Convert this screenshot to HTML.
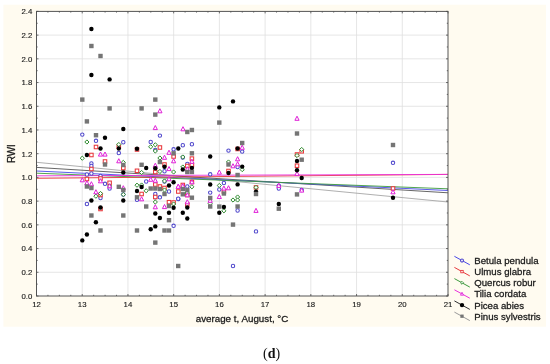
<!DOCTYPE html><html><head><meta charset="utf-8"><title>Figure d</title><style>html,body{margin:0;padding:0;background:#fff}body{width:550px;height:364px;position:relative;overflow:hidden}</style></head><body><svg width="550" height="364" viewBox="0 0 550 364" style="position:absolute;left:0;top:0">
<rect x="0" y="0" width="550" height="364" fill="#fff"/>
<rect x="3.4" y="4.7" width="542.6" height="322.0" fill="#fffbf0"/>
<rect x="36.5" y="11.4" width="411.5" height="284.6" fill="#fff"/>
<path d="M82.22 11.4V296.0M127.94 11.4V296.0M173.67 11.4V296.0M219.39 11.4V296.0M265.11 11.4V296.0M310.83 11.4V296.0M356.56 11.4V296.0M402.28 11.4V296.0M36.5 272.28H448.0M36.5 248.57H448.0M36.5 224.85H448.0M36.5 201.13H448.0M36.5 177.42H448.0M36.5 153.70H448.0M36.5 129.98H448.0M36.5 106.27H448.0M36.5 82.55H448.0M36.5 58.83H448.0M36.5 35.12H448.0" stroke="#e0e0e0" stroke-width="0.8" fill="none"/>
<line x1="36.5" y1="162.3" x2="448.0" y2="202" stroke="#a6a6a6" stroke-width="0.9"/>
<line x1="36.5" y1="167.4" x2="448.0" y2="192.8" stroke="#555" stroke-width="0.9"/>
<line x1="36.5" y1="171" x2="448.0" y2="190.5" stroke="#4848e8" stroke-width="0.9"/>
<line x1="36.5" y1="173.2" x2="448.0" y2="188.8" stroke="#3c9a3c" stroke-width="0.9"/>
<line x1="36.5" y1="178.3" x2="448.0" y2="174.4" stroke="#e8383c" stroke-width="0.9"/>
<line x1="36.5" y1="175.8" x2="448.0" y2="174.4" stroke="#ea30dc" stroke-width="0.9"/>
<g>
<circle cx="82.3" cy="134.6" r="1.7" fill="#fff" stroke="#5048cc" stroke-width="1.05"/>
<circle cx="96.0" cy="140.8" r="1.7" fill="#fff" stroke="#5048cc" stroke-width="1.05"/>
<circle cx="159.9" cy="135.6" r="1.7" fill="#fff" stroke="#5048cc" stroke-width="1.05"/>
<circle cx="123.3" cy="142.2" r="1.7" fill="#fff" stroke="#5048cc" stroke-width="1.05"/>
<circle cx="150.7" cy="142.0" r="1.7" fill="#fff" stroke="#5048cc" stroke-width="1.05"/>
<circle cx="155.3" cy="150.0" r="1.7" fill="#fff" stroke="#5048cc" stroke-width="1.05"/>
<circle cx="173.6" cy="149.3" r="1.7" fill="#fff" stroke="#5048cc" stroke-width="1.05"/>
<circle cx="118.8" cy="153.0" r="1.7" fill="#fff" stroke="#5048cc" stroke-width="1.05"/>
<circle cx="91.4" cy="163.5" r="1.7" fill="#fff" stroke="#5048cc" stroke-width="1.05"/>
<circle cx="91.4" cy="166.0" r="1.7" fill="#fff" stroke="#5048cc" stroke-width="1.05"/>
<circle cx="86.9" cy="174.5" r="1.7" fill="#fff" stroke="#5048cc" stroke-width="1.05"/>
<circle cx="91.4" cy="173.5" r="1.7" fill="#fff" stroke="#5048cc" stroke-width="1.05"/>
<circle cx="100.5" cy="176.0" r="1.7" fill="#fff" stroke="#5048cc" stroke-width="1.05"/>
<circle cx="105.0" cy="183.8" r="1.7" fill="#fff" stroke="#5048cc" stroke-width="1.05"/>
<circle cx="109.6" cy="188.5" r="1.7" fill="#fff" stroke="#5048cc" stroke-width="1.05"/>
<circle cx="100.5" cy="198.0" r="1.7" fill="#fff" stroke="#5048cc" stroke-width="1.05"/>
<circle cx="86.9" cy="204.0" r="1.7" fill="#fff" stroke="#5048cc" stroke-width="1.05"/>
<circle cx="146.2" cy="181.5" r="1.7" fill="#fff" stroke="#5048cc" stroke-width="1.05"/>
<circle cx="164.5" cy="181.5" r="1.7" fill="#fff" stroke="#5048cc" stroke-width="1.05"/>
<circle cx="164.5" cy="171.2" r="1.7" fill="#fff" stroke="#5048cc" stroke-width="1.05"/>
<circle cx="169.0" cy="191.5" r="1.7" fill="#fff" stroke="#5048cc" stroke-width="1.05"/>
<circle cx="137.0" cy="199.7" r="1.7" fill="#fff" stroke="#5048cc" stroke-width="1.05"/>
<circle cx="155.3" cy="194.0" r="1.7" fill="#fff" stroke="#5048cc" stroke-width="1.05"/>
<circle cx="155.3" cy="197.3" r="1.7" fill="#fff" stroke="#5048cc" stroke-width="1.05"/>
<circle cx="159.9" cy="197.3" r="1.7" fill="#fff" stroke="#5048cc" stroke-width="1.05"/>
<circle cx="178.3" cy="199.0" r="1.7" fill="#fff" stroke="#5048cc" stroke-width="1.05"/>
<circle cx="173.6" cy="225.8" r="1.7" fill="#fff" stroke="#5048cc" stroke-width="1.05"/>
<circle cx="182.8" cy="145.2" r="1.7" fill="#fff" stroke="#5048cc" stroke-width="1.05"/>
<circle cx="191.9" cy="144.2" r="1.7" fill="#fff" stroke="#5048cc" stroke-width="1.05"/>
<circle cx="228.5" cy="150.6" r="1.7" fill="#fff" stroke="#5048cc" stroke-width="1.05"/>
<circle cx="242.2" cy="151.6" r="1.7" fill="#fff" stroke="#5048cc" stroke-width="1.05"/>
<circle cx="182.8" cy="157.5" r="1.7" fill="#fff" stroke="#5048cc" stroke-width="1.05"/>
<circle cx="187.3" cy="164.0" r="1.7" fill="#fff" stroke="#5048cc" stroke-width="1.05"/>
<circle cx="237.6" cy="167.0" r="1.7" fill="#fff" stroke="#5048cc" stroke-width="1.05"/>
<circle cx="210.2" cy="174.3" r="1.7" fill="#fff" stroke="#5048cc" stroke-width="1.05"/>
<circle cx="223.9" cy="183.0" r="1.7" fill="#fff" stroke="#5048cc" stroke-width="1.05"/>
<circle cx="187.3" cy="186.5" r="1.7" fill="#fff" stroke="#5048cc" stroke-width="1.05"/>
<circle cx="219.3" cy="189.5" r="1.7" fill="#fff" stroke="#5048cc" stroke-width="1.05"/>
<circle cx="210.2" cy="192.6" r="1.7" fill="#fff" stroke="#5048cc" stroke-width="1.05"/>
<circle cx="178.2" cy="198.7" r="1.7" fill="#fff" stroke="#5048cc" stroke-width="1.05"/>
<circle cx="237.6" cy="210.5" r="1.7" fill="#fff" stroke="#5048cc" stroke-width="1.05"/>
<circle cx="256.0" cy="231.4" r="1.7" fill="#fff" stroke="#5048cc" stroke-width="1.05"/>
<circle cx="233.0" cy="266.0" r="1.7" fill="#fff" stroke="#5048cc" stroke-width="1.05"/>
<circle cx="278.8" cy="185.6" r="1.7" fill="#fff" stroke="#5048cc" stroke-width="1.05"/>
<circle cx="278.8" cy="188.6" r="1.7" fill="#fff" stroke="#5048cc" stroke-width="1.05"/>
<circle cx="301.7" cy="190.0" r="1.7" fill="#fff" stroke="#5048cc" stroke-width="1.05"/>
<circle cx="393.0" cy="162.8" r="1.7" fill="#fff" stroke="#5048cc" stroke-width="1.05"/>
<circle cx="123.3" cy="194.5" r="1.7" fill="#fff" stroke="#5048cc" stroke-width="1.05"/>
<rect x="94.25" y="145.25" width="3.5" height="3.5" fill="#fff" stroke="#e8383c" stroke-width="1.05"/>
<rect x="89.65" y="153.25" width="3.5" height="3.5" fill="#fff" stroke="#e8383c" stroke-width="1.05"/>
<rect x="103.25" y="159.75" width="3.5" height="3.5" fill="#fff" stroke="#e8383c" stroke-width="1.05"/>
<rect x="89.65" y="167.25" width="3.5" height="3.5" fill="#fff" stroke="#e8383c" stroke-width="1.05"/>
<rect x="85.15" y="177.25" width="3.5" height="3.5" fill="#fff" stroke="#e8383c" stroke-width="1.05"/>
<rect x="98.75" y="176.75" width="3.5" height="3.5" fill="#fff" stroke="#e8383c" stroke-width="1.05"/>
<rect x="107.85" y="181.05" width="3.5" height="3.5" fill="#fff" stroke="#e8383c" stroke-width="1.05"/>
<rect x="98.75" y="193.25" width="3.5" height="3.5" fill="#fff" stroke="#e8383c" stroke-width="1.05"/>
<rect x="98.75" y="207.25" width="3.5" height="3.5" fill="#fff" stroke="#e8383c" stroke-width="1.05"/>
<rect x="117.05" y="144.75" width="3.5" height="3.5" fill="#fff" stroke="#e8383c" stroke-width="1.05"/>
<rect x="121.55" y="166.25" width="3.5" height="3.5" fill="#fff" stroke="#e8383c" stroke-width="1.05"/>
<rect x="135.25" y="147.75" width="3.5" height="3.5" fill="#fff" stroke="#e8383c" stroke-width="1.05"/>
<rect x="158.15" y="145.75" width="3.5" height="3.5" fill="#fff" stroke="#e8383c" stroke-width="1.05"/>
<rect x="171.85" y="154.75" width="3.5" height="3.5" fill="#fff" stroke="#e8383c" stroke-width="1.05"/>
<rect x="162.75" y="162.75" width="3.5" height="3.5" fill="#fff" stroke="#e8383c" stroke-width="1.05"/>
<rect x="135.25" y="169.05" width="3.5" height="3.5" fill="#fff" stroke="#e8383c" stroke-width="1.05"/>
<rect x="153.55" y="170.25" width="3.5" height="3.5" fill="#fff" stroke="#e8383c" stroke-width="1.05"/>
<rect x="153.55" y="182.75" width="3.5" height="3.5" fill="#fff" stroke="#e8383c" stroke-width="1.05"/>
<rect x="158.15" y="184.75" width="3.5" height="3.5" fill="#fff" stroke="#e8383c" stroke-width="1.05"/>
<rect x="162.75" y="186.25" width="3.5" height="3.5" fill="#fff" stroke="#e8383c" stroke-width="1.05"/>
<rect x="139.85" y="192.25" width="3.5" height="3.5" fill="#fff" stroke="#e8383c" stroke-width="1.05"/>
<rect x="153.55" y="195.25" width="3.5" height="3.5" fill="#fff" stroke="#e8383c" stroke-width="1.05"/>
<rect x="167.25" y="200.45" width="3.5" height="3.5" fill="#fff" stroke="#e8383c" stroke-width="1.05"/>
<rect x="171.85" y="200.75" width="3.5" height="3.5" fill="#fff" stroke="#e8383c" stroke-width="1.05"/>
<rect x="176.55" y="189.75" width="3.5" height="3.5" fill="#fff" stroke="#e8383c" stroke-width="1.05"/>
<rect x="235.85" y="147.25" width="3.5" height="3.5" fill="#fff" stroke="#e8383c" stroke-width="1.05"/>
<rect x="190.15" y="156.85" width="3.5" height="3.5" fill="#fff" stroke="#e8383c" stroke-width="1.05"/>
<rect x="190.15" y="163.25" width="3.5" height="3.5" fill="#fff" stroke="#e8383c" stroke-width="1.05"/>
<rect x="185.55" y="164.25" width="3.5" height="3.5" fill="#fff" stroke="#e8383c" stroke-width="1.05"/>
<rect x="226.75" y="169.25" width="3.5" height="3.5" fill="#fff" stroke="#e8383c" stroke-width="1.05"/>
<rect x="190.15" y="180.25" width="3.5" height="3.5" fill="#fff" stroke="#e8383c" stroke-width="1.05"/>
<rect x="181.05" y="183.25" width="3.5" height="3.5" fill="#fff" stroke="#e8383c" stroke-width="1.05"/>
<rect x="222.15" y="189.75" width="3.5" height="3.5" fill="#fff" stroke="#e8383c" stroke-width="1.05"/>
<rect x="185.55" y="193.25" width="3.5" height="3.5" fill="#fff" stroke="#e8383c" stroke-width="1.05"/>
<rect x="185.55" y="202.75" width="3.5" height="3.5" fill="#fff" stroke="#e8383c" stroke-width="1.05"/>
<rect x="254.25" y="185.65" width="3.5" height="3.5" fill="#fff" stroke="#e8383c" stroke-width="1.05"/>
<rect x="295.25" y="152.75" width="3.5" height="3.5" fill="#fff" stroke="#e8383c" stroke-width="1.05"/>
<rect x="299.95" y="149.55" width="3.5" height="3.5" fill="#fff" stroke="#e8383c" stroke-width="1.05"/>
<rect x="295.25" y="163.95" width="3.5" height="3.5" fill="#fff" stroke="#e8383c" stroke-width="1.05"/>
<rect x="391.25" y="186.75" width="3.5" height="3.5" fill="#fff" stroke="#e8383c" stroke-width="1.05"/>
<path d="M123.3 160.3L125.4 162.4L123.3 164.5L121.2 162.4Z" fill="#fff" stroke="#2e8b2e" stroke-width="1.0"/>
<path d="M86.9 139.9L89.0 142.0L86.9 144.1L84.8 142.0Z" fill="#fff" stroke="#2e8b2e" stroke-width="1.0"/>
<path d="M82.3 156.1L84.4 158.2L82.3 160.3L80.2 158.2Z" fill="#fff" stroke="#2e8b2e" stroke-width="1.0"/>
<path d="M118.8 142.4L120.9 144.5L118.8 146.6L116.7 144.5Z" fill="#fff" stroke="#2e8b2e" stroke-width="1.0"/>
<path d="M109.6 183.9L111.7 186.0L109.6 188.1L107.5 186.0Z" fill="#fff" stroke="#2e8b2e" stroke-width="1.0"/>
<path d="M95.9 194.1L98.0 196.2L95.9 198.3L93.8 196.2Z" fill="#fff" stroke="#2e8b2e" stroke-width="1.0"/>
<path d="M100.5 191.4L102.6 193.5L100.5 195.6L98.4 193.5Z" fill="#fff" stroke="#2e8b2e" stroke-width="1.0"/>
<path d="M123.3 192.4L125.4 194.5L123.3 196.6L121.2 194.5Z" fill="#fff" stroke="#2e8b2e" stroke-width="1.0"/>
<path d="M150.7 144.7L152.8 146.8L150.7 148.9L148.6 146.8Z" fill="#fff" stroke="#2e8b2e" stroke-width="1.0"/>
<path d="M155.3 142.7L157.4 144.8L155.3 146.9L153.2 144.8Z" fill="#fff" stroke="#2e8b2e" stroke-width="1.0"/>
<path d="M155.3 148.9L157.4 151.0L155.3 153.1L153.2 151.0Z" fill="#fff" stroke="#2e8b2e" stroke-width="1.0"/>
<path d="M159.9 155.9L162.0 158.0L159.9 160.1L157.8 158.0Z" fill="#fff" stroke="#2e8b2e" stroke-width="1.0"/>
<path d="M159.9 169.4L162.0 171.5L159.9 173.6L157.8 171.5Z" fill="#fff" stroke="#2e8b2e" stroke-width="1.0"/>
<path d="M173.6 169.9L175.7 172.0L173.6 174.1L171.5 172.0Z" fill="#fff" stroke="#2e8b2e" stroke-width="1.0"/>
<path d="M141.6 170.4L143.7 172.5L141.6 174.6L139.5 172.5Z" fill="#fff" stroke="#2e8b2e" stroke-width="1.0"/>
<path d="M164.5 178.9L166.6 181.0L164.5 183.1L162.4 181.0Z" fill="#fff" stroke="#2e8b2e" stroke-width="1.0"/>
<path d="M137.0 183.1L139.1 185.2L137.0 187.3L134.9 185.2Z" fill="#fff" stroke="#2e8b2e" stroke-width="1.0"/>
<path d="M141.6 182.9L143.7 185.0L141.6 187.1L139.5 185.0Z" fill="#fff" stroke="#2e8b2e" stroke-width="1.0"/>
<path d="M146.2 188.7L148.3 190.8L146.2 192.9L144.1 190.8Z" fill="#fff" stroke="#2e8b2e" stroke-width="1.0"/>
<path d="M164.5 187.9L166.6 190.0L164.5 192.1L162.4 190.0Z" fill="#fff" stroke="#2e8b2e" stroke-width="1.0"/>
<path d="M155.3 199.9L157.4 202.0L155.3 204.1L153.2 202.0Z" fill="#fff" stroke="#2e8b2e" stroke-width="1.0"/>
<path d="M182.8 154.9L184.9 157.0L182.8 159.1L180.7 157.0Z" fill="#fff" stroke="#2e8b2e" stroke-width="1.0"/>
<path d="M182.8 164.9L184.9 167.0L182.8 169.1L180.7 167.0Z" fill="#fff" stroke="#2e8b2e" stroke-width="1.0"/>
<path d="M228.5 159.9L230.6 162.0L228.5 164.1L226.4 162.0Z" fill="#fff" stroke="#2e8b2e" stroke-width="1.0"/>
<path d="M242.2 167.5L244.3 169.6L242.2 171.7L240.1 169.6Z" fill="#fff" stroke="#2e8b2e" stroke-width="1.0"/>
<path d="M219.3 183.4L221.4 185.5L219.3 187.6L217.2 185.5Z" fill="#fff" stroke="#2e8b2e" stroke-width="1.0"/>
<path d="M191.9 184.7L194.0 186.8L191.9 188.9L189.8 186.8Z" fill="#fff" stroke="#2e8b2e" stroke-width="1.0"/>
<path d="M187.3 190.9L189.4 193.0L187.3 195.1L185.2 193.0Z" fill="#fff" stroke="#2e8b2e" stroke-width="1.0"/>
<path d="M210.2 201.4L212.3 203.5L210.2 205.6L208.1 203.5Z" fill="#fff" stroke="#2e8b2e" stroke-width="1.0"/>
<path d="M223.9 208.7L226.0 210.8L223.9 212.9L221.8 210.8Z" fill="#fff" stroke="#2e8b2e" stroke-width="1.0"/>
<path d="M237.6 194.9L239.7 197.0L237.6 199.1L235.5 197.0Z" fill="#fff" stroke="#2e8b2e" stroke-width="1.0"/>
<path d="M233.0 197.9L235.1 200.0L233.0 202.1L230.9 200.0Z" fill="#fff" stroke="#2e8b2e" stroke-width="1.0"/>
<path d="M237.6 197.9L239.7 200.0L237.6 202.1L235.5 200.0Z" fill="#fff" stroke="#2e8b2e" stroke-width="1.0"/>
<path d="M256.0 185.3L258.1 187.4L256.0 189.5L253.9 187.4Z" fill="#fff" stroke="#2e8b2e" stroke-width="1.0"/>
<path d="M297.0 153.4L299.1 155.5L297.0 157.6L294.9 155.5Z" fill="#fff" stroke="#2e8b2e" stroke-width="1.0"/>
<path d="M301.7 147.4L303.8 149.5L301.7 151.6L299.6 149.5Z" fill="#fff" stroke="#2e8b2e" stroke-width="1.0"/>
<path d="M173.6 201.9L175.7 204.0L173.6 206.1L171.5 204.0Z" fill="#fff" stroke="#2e8b2e" stroke-width="1.0"/>
<path d="M159.9 108.7L162.0 112.8L157.8 112.8Z" fill="#fff" stroke="#e020d8" stroke-width="1.0"/>
<path d="M155.3 125.5L157.4 129.6L153.2 129.6Z" fill="#fff" stroke="#e020d8" stroke-width="1.0"/>
<path d="M100.5 152.0L102.6 156.1L98.4 156.1Z" fill="#fff" stroke="#e020d8" stroke-width="1.0"/>
<path d="M105.0 152.0L107.1 156.1L102.9 156.1Z" fill="#fff" stroke="#e020d8" stroke-width="1.0"/>
<path d="M169.0 150.2L171.1 154.3L166.9 154.3Z" fill="#fff" stroke="#e020d8" stroke-width="1.0"/>
<path d="M164.5 155.2L166.6 159.3L162.4 159.3Z" fill="#fff" stroke="#e020d8" stroke-width="1.0"/>
<path d="M173.6 158.7L175.7 162.8L171.5 162.8Z" fill="#fff" stroke="#e020d8" stroke-width="1.0"/>
<path d="M118.8 158.7L120.9 162.8L116.7 162.8Z" fill="#fff" stroke="#e020d8" stroke-width="1.0"/>
<path d="M82.3 177.7L84.4 181.8L80.2 181.8Z" fill="#fff" stroke="#e020d8" stroke-width="1.0"/>
<path d="M86.9 180.7L89.0 184.8L84.8 184.8Z" fill="#fff" stroke="#e020d8" stroke-width="1.0"/>
<path d="M91.4 181.7L93.5 185.8L89.3 185.8Z" fill="#fff" stroke="#e020d8" stroke-width="1.0"/>
<path d="M100.5 178.7L102.6 182.8L98.4 182.8Z" fill="#fff" stroke="#e020d8" stroke-width="1.0"/>
<path d="M109.6 183.7L111.7 187.8L107.5 187.8Z" fill="#fff" stroke="#e020d8" stroke-width="1.0"/>
<path d="M95.9 189.7L98.0 193.8L93.8 193.8Z" fill="#fff" stroke="#e020d8" stroke-width="1.0"/>
<path d="M123.3 185.7L125.4 189.8L121.2 189.8Z" fill="#fff" stroke="#e020d8" stroke-width="1.0"/>
<path d="M155.3 163.2L157.4 167.3L153.2 167.3Z" fill="#fff" stroke="#e020d8" stroke-width="1.0"/>
<path d="M169.0 166.5L171.1 170.6L166.9 170.6Z" fill="#fff" stroke="#e020d8" stroke-width="1.0"/>
<path d="M150.7 177.2L152.8 181.3L148.6 181.3Z" fill="#fff" stroke="#e020d8" stroke-width="1.0"/>
<path d="M155.3 178.2L157.4 182.3L153.2 182.3Z" fill="#fff" stroke="#e020d8" stroke-width="1.0"/>
<path d="M169.0 176.7L171.1 180.8L166.9 180.8Z" fill="#fff" stroke="#e020d8" stroke-width="1.0"/>
<path d="M178.3 184.2L180.4 188.3L176.2 188.3Z" fill="#fff" stroke="#e020d8" stroke-width="1.0"/>
<path d="M141.6 196.7L143.7 200.8L139.5 200.8Z" fill="#fff" stroke="#e020d8" stroke-width="1.0"/>
<path d="M155.3 204.7L157.4 208.8L153.2 208.8Z" fill="#fff" stroke="#e020d8" stroke-width="1.0"/>
<path d="M164.5 204.5L166.6 208.6L162.4 208.6Z" fill="#fff" stroke="#e020d8" stroke-width="1.0"/>
<path d="M183.0 126.7L185.1 130.8L180.9 130.8Z" fill="#fff" stroke="#e020d8" stroke-width="1.0"/>
<path d="M242.2 145.2L244.3 149.3L240.1 149.3Z" fill="#fff" stroke="#e020d8" stroke-width="1.0"/>
<path d="M237.6 156.7L239.7 160.8L235.5 160.8Z" fill="#fff" stroke="#e020d8" stroke-width="1.0"/>
<path d="M237.6 161.7L239.7 165.8L235.5 165.8Z" fill="#fff" stroke="#e020d8" stroke-width="1.0"/>
<path d="M233.0 163.7L235.1 167.8L230.9 167.8Z" fill="#fff" stroke="#e020d8" stroke-width="1.0"/>
<path d="M191.9 159.2L194.0 163.3L189.8 163.3Z" fill="#fff" stroke="#e020d8" stroke-width="1.0"/>
<path d="M187.3 166.7L189.4 170.8L185.2 170.8Z" fill="#fff" stroke="#e020d8" stroke-width="1.0"/>
<path d="M219.3 170.0L221.4 174.1L217.2 174.1Z" fill="#fff" stroke="#e020d8" stroke-width="1.0"/>
<path d="M191.9 179.7L194.0 183.8L189.8 183.8Z" fill="#fff" stroke="#e020d8" stroke-width="1.0"/>
<path d="M178.2 184.2L180.3 188.3L176.1 188.3Z" fill="#fff" stroke="#e020d8" stroke-width="1.0"/>
<path d="M182.8 183.7L184.9 187.8L180.7 187.8Z" fill="#fff" stroke="#e020d8" stroke-width="1.0"/>
<path d="M223.9 186.0L226.0 190.1L221.8 190.1Z" fill="#fff" stroke="#e020d8" stroke-width="1.0"/>
<path d="M228.5 185.7L230.6 189.8L226.4 189.8Z" fill="#fff" stroke="#e020d8" stroke-width="1.0"/>
<path d="M219.3 194.4L221.4 198.5L217.2 198.5Z" fill="#fff" stroke="#e020d8" stroke-width="1.0"/>
<path d="M187.3 192.7L189.4 196.8L185.2 196.8Z" fill="#fff" stroke="#e020d8" stroke-width="1.0"/>
<path d="M210.2 198.2L212.3 202.3L208.1 202.3Z" fill="#fff" stroke="#e020d8" stroke-width="1.0"/>
<path d="M187.3 199.7L189.4 203.8L185.2 203.8Z" fill="#fff" stroke="#e020d8" stroke-width="1.0"/>
<path d="M256.0 208.3L258.1 212.4L253.9 212.4Z" fill="#fff" stroke="#e020d8" stroke-width="1.0"/>
<path d="M278.8 183.3L280.9 187.4L276.7 187.4Z" fill="#fff" stroke="#e020d8" stroke-width="1.0"/>
<path d="M297.0 116.2L299.1 120.3L294.9 120.3Z" fill="#fff" stroke="#e020d8" stroke-width="1.0"/>
<path d="M297.0 171.3L299.1 175.4L294.9 175.4Z" fill="#fff" stroke="#e020d8" stroke-width="1.0"/>
<path d="M301.7 188.0L303.8 192.1L299.6 192.1Z" fill="#fff" stroke="#e020d8" stroke-width="1.0"/>
<path d="M393.0 189.7L395.1 193.8L390.9 193.8Z" fill="#fff" stroke="#e020d8" stroke-width="1.0"/>
<circle cx="91.4" cy="29.0" r="2.2" fill="#000"/>
<circle cx="91.4" cy="75.0" r="2.2" fill="#000"/>
<circle cx="109.6" cy="79.4" r="2.2" fill="#000"/>
<circle cx="123.3" cy="129.0" r="2.2" fill="#000"/>
<circle cx="105.0" cy="137.8" r="2.2" fill="#000"/>
<circle cx="100.5" cy="148.5" r="2.2" fill="#000"/>
<circle cx="118.8" cy="148.5" r="2.2" fill="#000"/>
<circle cx="137.0" cy="148.7" r="2.2" fill="#000"/>
<circle cx="178.3" cy="148.5" r="2.2" fill="#000"/>
<circle cx="86.9" cy="155.0" r="2.2" fill="#000"/>
<circle cx="123.3" cy="172.5" r="2.2" fill="#000"/>
<circle cx="146.2" cy="168.0" r="2.2" fill="#000"/>
<circle cx="164.5" cy="166.8" r="2.2" fill="#000"/>
<circle cx="155.3" cy="168.3" r="2.2" fill="#000"/>
<circle cx="173.6" cy="182.2" r="2.2" fill="#000"/>
<circle cx="169.0" cy="185.5" r="2.2" fill="#000"/>
<circle cx="141.6" cy="187.0" r="2.2" fill="#000"/>
<circle cx="137.0" cy="191.0" r="2.2" fill="#000"/>
<circle cx="91.4" cy="200.5" r="2.2" fill="#000"/>
<circle cx="123.3" cy="200.5" r="2.2" fill="#000"/>
<circle cx="100.5" cy="207.5" r="2.2" fill="#000"/>
<circle cx="95.9" cy="222.2" r="2.2" fill="#000"/>
<circle cx="86.9" cy="234.5" r="2.2" fill="#000"/>
<circle cx="82.3" cy="240.4" r="2.2" fill="#000"/>
<circle cx="150.7" cy="229.2" r="2.2" fill="#000"/>
<circle cx="155.3" cy="226.4" r="2.2" fill="#000"/>
<circle cx="173.6" cy="207.8" r="2.2" fill="#000"/>
<circle cx="155.3" cy="213.5" r="2.2" fill="#000"/>
<circle cx="169.0" cy="212.8" r="2.2" fill="#000"/>
<circle cx="159.9" cy="218.0" r="2.2" fill="#000"/>
<circle cx="233.0" cy="101.4" r="2.2" fill="#000"/>
<circle cx="219.3" cy="107.4" r="2.2" fill="#000"/>
<circle cx="237.6" cy="148.5" r="2.2" fill="#000"/>
<circle cx="210.2" cy="156.5" r="2.2" fill="#000"/>
<circle cx="242.2" cy="166.6" r="2.2" fill="#000"/>
<circle cx="191.9" cy="168.0" r="2.2" fill="#000"/>
<circle cx="182.8" cy="169.5" r="2.2" fill="#000"/>
<circle cx="228.5" cy="173.0" r="2.2" fill="#000"/>
<circle cx="210.2" cy="184.5" r="2.2" fill="#000"/>
<circle cx="237.6" cy="184.4" r="2.2" fill="#000"/>
<circle cx="187.3" cy="207.5" r="2.2" fill="#000"/>
<circle cx="182.8" cy="212.8" r="2.2" fill="#000"/>
<circle cx="187.3" cy="218.5" r="2.2" fill="#000"/>
<circle cx="223.9" cy="207.0" r="2.2" fill="#000"/>
<circle cx="219.3" cy="212.7" r="2.2" fill="#000"/>
<circle cx="256.0" cy="191.6" r="2.2" fill="#000"/>
<circle cx="278.8" cy="204.0" r="2.2" fill="#000"/>
<circle cx="297.0" cy="161.0" r="2.2" fill="#000"/>
<circle cx="297.0" cy="170.2" r="2.2" fill="#000"/>
<circle cx="301.7" cy="178.0" r="2.2" fill="#000"/>
<circle cx="393.0" cy="197.8" r="2.2" fill="#000"/>
<rect x="89.2" y="43.8" width="4.4" height="4.4" fill="#757575"/>
<rect x="98.3" y="53.8" width="4.4" height="4.4" fill="#757575"/>
<rect x="80.1" y="97.4" width="4.4" height="4.4" fill="#757575"/>
<rect x="107.4" y="106.2" width="4.4" height="4.4" fill="#757575"/>
<rect x="84.7" y="119.2" width="4.4" height="4.4" fill="#757575"/>
<rect x="153.1" y="97.4" width="4.4" height="4.4" fill="#757575"/>
<rect x="139.4" y="106.2" width="4.4" height="4.4" fill="#757575"/>
<rect x="153.1" y="112.4" width="4.4" height="4.4" fill="#757575"/>
<rect x="93.8" y="133.0" width="4.4" height="4.4" fill="#757575"/>
<rect x="171.4" y="151.1" width="4.4" height="4.4" fill="#757575"/>
<rect x="102.8" y="162.3" width="4.4" height="4.4" fill="#757575"/>
<rect x="121.1" y="162.8" width="4.4" height="4.4" fill="#757575"/>
<rect x="157.7" y="159.8" width="4.4" height="4.4" fill="#757575"/>
<rect x="139.4" y="162.6" width="4.4" height="4.4" fill="#757575"/>
<rect x="84.7" y="184.3" width="4.4" height="4.4" fill="#757575"/>
<rect x="89.2" y="185.8" width="4.4" height="4.4" fill="#757575"/>
<rect x="116.6" y="184.6" width="4.4" height="4.4" fill="#757575"/>
<rect x="121.1" y="187.8" width="4.4" height="4.4" fill="#757575"/>
<rect x="148.5" y="186.3" width="4.4" height="4.4" fill="#757575"/>
<rect x="153.1" y="186.3" width="4.4" height="4.4" fill="#757575"/>
<rect x="157.7" y="186.8" width="4.4" height="4.4" fill="#757575"/>
<rect x="162.3" y="191.8" width="4.4" height="4.4" fill="#757575"/>
<rect x="134.8" y="195.1" width="4.4" height="4.4" fill="#757575"/>
<rect x="144.0" y="204.3" width="4.4" height="4.4" fill="#757575"/>
<rect x="166.8" y="203.8" width="4.4" height="4.4" fill="#757575"/>
<rect x="89.2" y="213.3" width="4.4" height="4.4" fill="#757575"/>
<rect x="121.1" y="213.3" width="4.4" height="4.4" fill="#757575"/>
<rect x="98.3" y="228.3" width="4.4" height="4.4" fill="#757575"/>
<rect x="134.8" y="228.3" width="4.4" height="4.4" fill="#757575"/>
<rect x="162.3" y="228.3" width="4.4" height="4.4" fill="#757575"/>
<rect x="166.8" y="228.3" width="4.4" height="4.4" fill="#757575"/>
<rect x="153.1" y="240.4" width="4.4" height="4.4" fill="#757575"/>
<rect x="166.8" y="218.0" width="4.4" height="4.4" fill="#757575"/>
<rect x="176.0" y="263.8" width="4.4" height="4.4" fill="#757575"/>
<rect x="217.1" y="120.4" width="4.4" height="4.4" fill="#757575"/>
<rect x="185.1" y="129.8" width="4.4" height="4.4" fill="#757575"/>
<rect x="189.7" y="127.8" width="4.4" height="4.4" fill="#757575"/>
<rect x="240.0" y="140.8" width="4.4" height="4.4" fill="#757575"/>
<rect x="189.7" y="151.1" width="4.4" height="4.4" fill="#757575"/>
<rect x="226.3" y="162.3" width="4.4" height="4.4" fill="#757575"/>
<rect x="189.7" y="169.8" width="4.4" height="4.4" fill="#757575"/>
<rect x="185.1" y="169.8" width="4.4" height="4.4" fill="#757575"/>
<rect x="235.4" y="172.8" width="4.4" height="4.4" fill="#757575"/>
<rect x="180.6" y="186.8" width="4.4" height="4.4" fill="#757575"/>
<rect x="185.1" y="187.8" width="4.4" height="4.4" fill="#757575"/>
<rect x="221.7" y="191.3" width="4.4" height="4.4" fill="#757575"/>
<rect x="180.6" y="192.1" width="4.4" height="4.4" fill="#757575"/>
<rect x="189.7" y="195.5" width="4.4" height="4.4" fill="#757575"/>
<rect x="208.0" y="195.8" width="4.4" height="4.4" fill="#757575"/>
<rect x="208.0" y="204.3" width="4.4" height="4.4" fill="#757575"/>
<rect x="217.1" y="204.4" width="4.4" height="4.4" fill="#757575"/>
<rect x="235.4" y="204.3" width="4.4" height="4.4" fill="#757575"/>
<rect x="230.8" y="222.4" width="4.4" height="4.4" fill="#757575"/>
<rect x="253.8" y="191.8" width="4.4" height="4.4" fill="#757575"/>
<rect x="276.6" y="206.5" width="4.4" height="4.4" fill="#757575"/>
<rect x="294.8" y="131.3" width="4.4" height="4.4" fill="#757575"/>
<rect x="299.5" y="157.5" width="4.4" height="4.4" fill="#757575"/>
<rect x="294.8" y="192.2" width="4.4" height="4.4" fill="#757575"/>
<rect x="390.8" y="142.8" width="4.4" height="4.4" fill="#757575"/>
</g>
<rect x="36.5" y="11.4" width="411.5" height="284.6" fill="none" stroke="#555" stroke-width="1"/>
<path d="M36.50 296.0v-2M36.50 11.4v2M47.93 296.0v-1.2M47.93 11.4v1.2M59.36 296.0v-1.2M59.36 11.4v1.2M70.79 296.0v-1.2M70.79 11.4v1.2M82.22 296.0v-2M82.22 11.4v2M93.65 296.0v-1.2M93.65 11.4v1.2M105.08 296.0v-1.2M105.08 11.4v1.2M116.51 296.0v-1.2M116.51 11.4v1.2M127.94 296.0v-2M127.94 11.4v2M139.38 296.0v-1.2M139.38 11.4v1.2M150.81 296.0v-1.2M150.81 11.4v1.2M162.24 296.0v-1.2M162.24 11.4v1.2M173.67 296.0v-2M173.67 11.4v2M185.10 296.0v-1.2M185.10 11.4v1.2M196.53 296.0v-1.2M196.53 11.4v1.2M207.96 296.0v-1.2M207.96 11.4v1.2M219.39 296.0v-2M219.39 11.4v2M230.82 296.0v-1.2M230.82 11.4v1.2M242.25 296.0v-1.2M242.25 11.4v1.2M253.68 296.0v-1.2M253.68 11.4v1.2M265.11 296.0v-2M265.11 11.4v2M276.54 296.0v-1.2M276.54 11.4v1.2M287.97 296.0v-1.2M287.97 11.4v1.2M299.40 296.0v-1.2M299.40 11.4v1.2M310.83 296.0v-2M310.83 11.4v2M322.26 296.0v-1.2M322.26 11.4v1.2M333.69 296.0v-1.2M333.69 11.4v1.2M345.12 296.0v-1.2M345.12 11.4v1.2M356.56 296.0v-2M356.56 11.4v2M367.99 296.0v-1.2M367.99 11.4v1.2M379.42 296.0v-1.2M379.42 11.4v1.2M390.85 296.0v-1.2M390.85 11.4v1.2M402.28 296.0v-2M402.28 11.4v2M413.71 296.0v-1.2M413.71 11.4v1.2M425.14 296.0v-1.2M425.14 11.4v1.2M436.57 296.0v-1.2M436.57 11.4v1.2M448.00 296.0v-2M448.00 11.4v2M36.5 296.00h2M448.0 296.00h-2M36.5 284.14h1.2M448.0 284.14h-1.2M36.5 272.28h2M448.0 272.28h-2M36.5 260.43h1.2M448.0 260.43h-1.2M36.5 248.57h2M448.0 248.57h-2M36.5 236.71h1.2M448.0 236.71h-1.2M36.5 224.85h2M448.0 224.85h-2M36.5 212.99h1.2M448.0 212.99h-1.2M36.5 201.13h2M448.0 201.13h-2M36.5 189.27h1.2M448.0 189.27h-1.2M36.5 177.42h2M448.0 177.42h-2M36.5 165.56h1.2M448.0 165.56h-1.2M36.5 153.70h2M448.0 153.70h-2M36.5 141.84h1.2M448.0 141.84h-1.2M36.5 129.98h2M448.0 129.98h-2M36.5 118.12h1.2M448.0 118.12h-1.2M36.5 106.27h2M448.0 106.27h-2M36.5 94.41h1.2M448.0 94.41h-1.2M36.5 82.55h2M448.0 82.55h-2M36.5 70.69h1.2M448.0 70.69h-1.2M36.5 58.83h2M448.0 58.83h-2M36.5 46.97h1.2M448.0 46.97h-1.2M36.5 35.12h2M448.0 35.12h-2M36.5 23.26h1.2M448.0 23.26h-1.2M36.5 11.40h2M448.0 11.40h-2" stroke="#4d4d4d" stroke-width="0.8" fill="none"/>
<g font-family="Liberation Sans, Arial, sans-serif" font-size="7.8" fill="#1a1a1a" stroke="#1a1a1a" stroke-width="0.14">
<text x="32.3" y="298.8" text-anchor="end">0.0</text>
<text x="32.3" y="275.1" text-anchor="end">0.2</text>
<text x="32.3" y="251.4" text-anchor="end">0.4</text>
<text x="32.3" y="227.6" text-anchor="end">0.6</text>
<text x="32.3" y="203.9" text-anchor="end">0.8</text>
<text x="32.3" y="180.2" text-anchor="end">1.0</text>
<text x="32.3" y="156.5" text-anchor="end">1.2</text>
<text x="32.3" y="132.8" text-anchor="end">1.4</text>
<text x="32.3" y="109.1" text-anchor="end">1.6</text>
<text x="32.3" y="85.3" text-anchor="end">1.8</text>
<text x="32.3" y="61.6" text-anchor="end">2.0</text>
<text x="32.3" y="37.9" text-anchor="end">2.2</text>
<text x="32.3" y="14.2" text-anchor="end">2.4</text>
<text x="36.5" y="306.9" text-anchor="middle">12</text>
<text x="82.2" y="306.9" text-anchor="middle">13</text>
<text x="127.9" y="306.9" text-anchor="middle">14</text>
<text x="173.7" y="306.9" text-anchor="middle">15</text>
<text x="219.4" y="306.9" text-anchor="middle">16</text>
<text x="265.1" y="306.9" text-anchor="middle">17</text>
<text x="310.8" y="306.9" text-anchor="middle">18</text>
<text x="356.6" y="306.9" text-anchor="middle">19</text>
<text x="402.3" y="306.9" text-anchor="middle">20</text>
<text x="448.0" y="306.9" text-anchor="middle">21</text>
</g>
<g font-family="Liberation Sans, Arial, sans-serif" font-size="9.8" fill="#1a1a1a" stroke="#1a1a1a" stroke-width="0.28">
<text transform="translate(242,322.0) scale(1.0,0.93)" text-anchor="middle">average t, August, °C</text>
<text transform="translate(15.1,153.7) rotate(-90) scale(1.0,1.03)" text-anchor="middle">RWI</text>
<line x1="454.4" y1="256.3" x2="469.8" y2="264.8" stroke="#4848e8" stroke-width="1"/>
<g transform="translate(462,260.5) scale(0.85)" stroke="none"><circle cx="0.0" cy="0.0" r="1.7" fill="#fff" stroke="#5048cc" stroke-width="1.3"/></g>
<text transform="translate(474.2,263.9) scale(0.985,0.93)">Betula pendula</text>
<line x1="454.4" y1="267.4" x2="469.8" y2="275.9" stroke="#e8383c" stroke-width="1"/>
<g transform="translate(462,271.6) scale(0.68)" stroke="none"><rect x="-1.75" y="-1.75" width="3.5" height="3.5" fill="#fff" stroke="#e8383c" stroke-width="1.3"/></g>
<text transform="translate(474.2,275.0) scale(0.985,0.93)">Ulmus glabra</text>
<line x1="454.4" y1="278.6" x2="469.8" y2="287.1" stroke="#3c9a3c" stroke-width="1"/>
<g transform="translate(462,282.8) scale(0.7)" stroke="none"><path d="M0.0 -2.1L2.1 0.0L0.0 2.1L-2.1 0.0Z" fill="#fff" stroke="#2e8b2e" stroke-width="1.3"/></g>
<text transform="translate(474.2,286.2) scale(0.985,0.93)">Quercus robur</text>
<line x1="454.4" y1="289.8" x2="469.8" y2="298.2" stroke="#ea30dc" stroke-width="1"/>
<g transform="translate(462,293.9) scale(0.7)" stroke="none"><path d="M0.0 -2.3L2.1 1.8L-2.1 1.8Z" fill="#fff" stroke="#e020d8" stroke-width="1.3"/></g>
<text transform="translate(474.2,297.3) scale(0.985,0.93)">Tilia cordata</text>
<line x1="454.4" y1="300.9" x2="469.8" y2="309.4" stroke="#333" stroke-width="1"/>
<g transform="translate(462,305.1) scale(1.0)" stroke="none"><circle cx="0.0" cy="0.0" r="2.2" fill="#000"/></g>
<text transform="translate(474.2,308.5) scale(0.985,0.93)">Picea abies</text>
<line x1="454.4" y1="312.1" x2="469.8" y2="320.6" stroke="#9a9a9a" stroke-width="1"/>
<g transform="translate(462,316.2) scale(0.75)" stroke="none"><rect x="-2.2" y="-2.2" width="4.4" height="4.4" fill="#757575"/></g>
<text transform="translate(474.2,319.6) scale(0.985,0.93)">Pinus sylvestris</text>
</g>
<text x="271.6" y="357.5" text-anchor="middle" font-family="Liberation Serif, serif" font-size="14" fill="#111">(<tspan font-weight="bold">d</tspan>)</text>
</svg></body></html>
